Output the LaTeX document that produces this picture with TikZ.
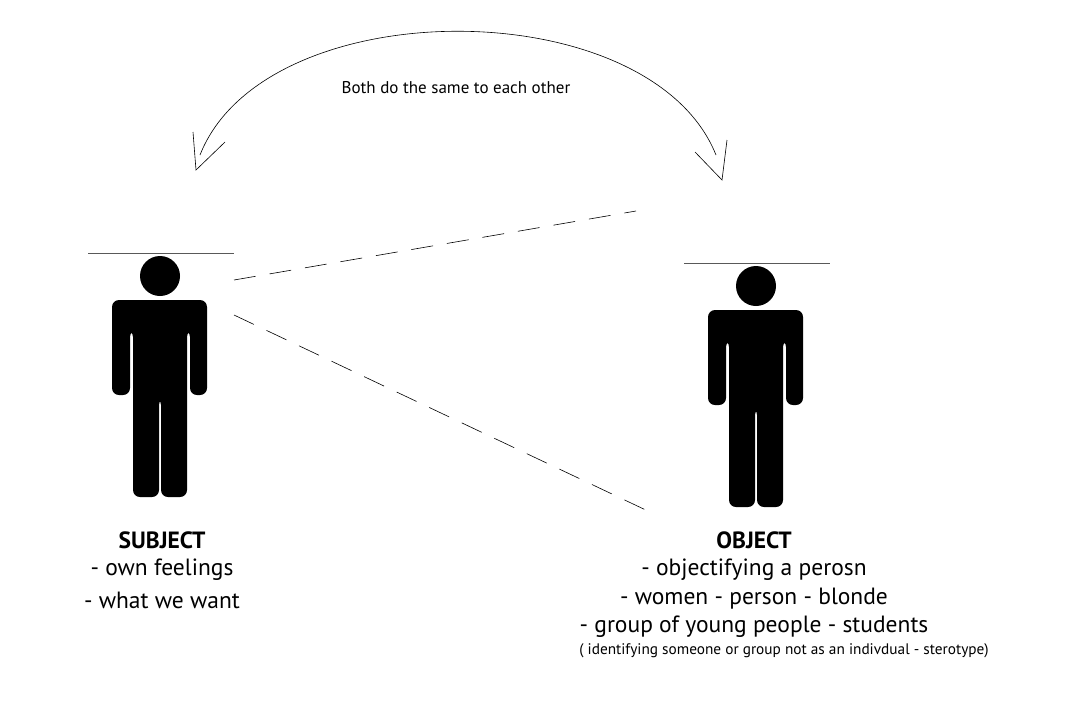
\documentclass[tikz,border=0pt]{standalone}
\usepackage{fontspec}
\setmainfont{PT Sans}
\begin{document}
\begin{tikzpicture}[x=1pt,y=-1pt,
  fig/.style={fill=black,rounded corners=7pt},
  dashline/.style={dash pattern=on 22pt off 14pt,line width=0.6pt},
  lbl/.style={font=\fontsize{23.5}{26}\selectfont,inner sep=0pt},
  small/.style={font=\fontsize{15.3}{17}\selectfont,inner sep=0pt}]
\useasboundingbox (0,0) rectangle (1075,723);
\newcommand{\person}[2]{%
 \begin{scope}[shift={(#1,#2)}]
 \fill (160,276) circle (20);
 \fill[fig] (112,395)--(112,300)--(207,300)--(207,395)--(190,395)--(190,330)--(187,330)--(187,497)--(161,497)--(161,398)--(159,398)--(159,497)--(133,497)--(133,330)--(130,330)--(130,395)--cycle;
 \end{scope}}
\person{0}{0}
\person{596}{10}
\coordinate (sl) at (88,253); \coordinate (sr) at (234,253);
\coordinate (ol) at (684,263); \coordinate (or) at (830,263);
\draw[gray!70!black,line width=0.7pt] (sl)--(sr) (ol)--(or);
\coordinate (d1a) at (234,280); \coordinate (d1b) at (636,211);
\coordinate (d2a) at (234,315); \coordinate (d2b) at (650,512);
\draw[dashline] (d1a)--(d1b);
\draw[dashline] (d2a)--(d2b);
\coordinate (al) at (200,155); \coordinate (ar) at (716,155);
\draw[line width=0.6pt] (al) .. controls (265,-10) and (650,-10) .. (ar);
\coordinate (tl) at (196,170); \coordinate (tr) at (722,180);
\draw[line width=0.6pt] (193,132)--(tl)--(225,142);
\draw[line width=0.6pt] (727,140)--(tr)--(695,152);
\node (both) [font=\fontsize{17}{19}\selectfont] at (456,88) {Both do the same to each other};
\node (subj) [lbl,font=\fontsize{23.5}{26}\bfseries\selectfont] at (162,540) {SUBJECT};
\node (s1) [lbl] at (162,570) {- own feelings};
\node (s2) [lbl] at (162,600) {- what we want};
\node (obj) [lbl,font=\fontsize{23.5}{26}\bfseries\selectfont] at (754,540) {OBJECT};
\node (o1) [lbl] at (754,570) {- objectifying a perosn};
\node (o2) [lbl] at (754,599) {- women - person - blonde};
\node (o3) [lbl] at (754,627) {- group of young people - students};
\node (o4) [small] at (784,651) {( identifying someone or group not as an indivdual - sterotype)};
\end{tikzpicture}
\end{document}
